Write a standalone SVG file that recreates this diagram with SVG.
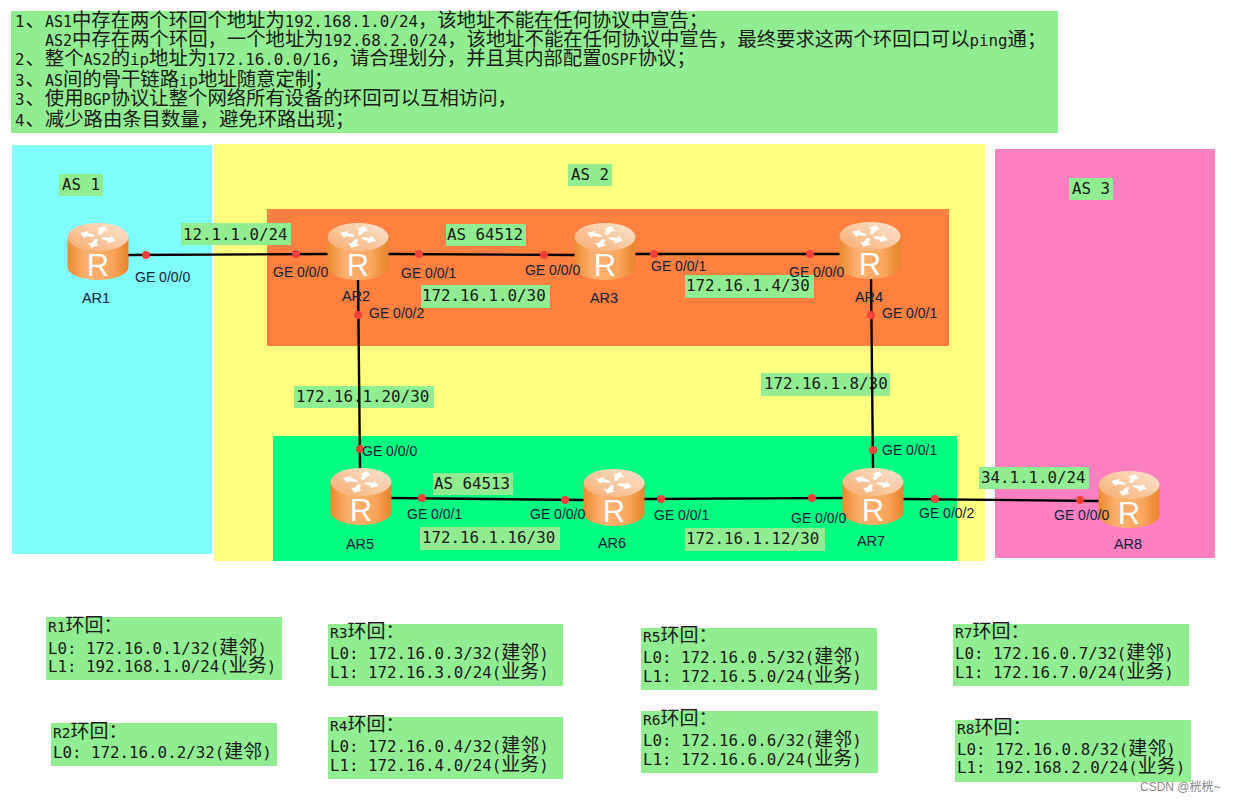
<svg xmlns="http://www.w3.org/2000/svg" width="1237" height="802" viewBox="0 0 1237 802">
<style>
text{font-family:"DejaVu Sans Mono","Liberation Mono","Noto Sans CJK SC",monospace;fill:#1a1a1a}
.m{font-size:15.8px}
.t{font-size:15px}
.r{font-size:14.5px}
.c{font-family:"Noto Sans CJK SC",sans-serif;font-size:19px}
.d{font-family:"Noto Sans CJK SC",sans-serif;font-size:19.35px}
.l{font-family:"Liberation Sans",Arial,sans-serif;font-size:14px;fill:#10203a}
.n{font-family:"Liberation Sans",Arial,sans-serif;font-size:14.5px;fill:#10203a;text-anchor:middle}
.g{fill:#90ee90}
.link{stroke:#000;stroke-width:2.4;fill:none}
.dot{fill:#f5403a}
</style>
<defs>
<linearGradient id="body" x1="0" x2="1" y1="0" y2="0"><stop offset="0" stop-color="#ea8a32"/><stop offset=".3" stop-color="#fcb272"/><stop offset=".7" stop-color="#faa860"/><stop offset="1" stop-color="#e8842c"/></linearGradient>
<linearGradient id="top" x1="1" x2="0" y1="0" y2="1"><stop offset="0" stop-color="#fde6d2"/><stop offset="1" stop-color="#f7ab6e"/></linearGradient>
<g id="arr"><path d="M0-1.600L8-3V-6.500L15 0 8 6.500V3L0 1.600Z" fill="#fff"/></g>
<g id="router">
<path d="M-30.500-14V16A30.500 13 0 0 0 30.500 16V-14Z" fill="url(#body)"/>
<ellipse cx="0" cy="-14" rx="30.500" ry="14" fill="url(#top)"/>
<g transform="translate(0 -14) scale(1 .6)"><use href="#arr" transform="rotate(20) translate(4 0)"/><use href="#arr" transform="rotate(110) translate(4 0)"/><use href="#arr" transform="rotate(200) translate(4 0)"/><use href="#arr" transform="rotate(290) translate(4 0)"/></g>
<text x="0" y="25" text-anchor="middle" style="font-family:'Liberation Sans',Arial,sans-serif;font-size:31px;fill:#fff">R</text>
</g>
</defs>
<rect width="1237" height="802" fill="#fff"/>
<g id="regions">
<rect x="12" y="145" width="200" height="409" fill="#80ffff"/>
<rect x="214" y="144" width="771" height="417" fill="#ffff80"/>
<rect x="995" y="149" width="220" height="409" fill="#ff80c0"/>
<rect x="267" y="209" width="682" height="137" fill="#ff8040"/>
<rect x="273" y="436" width="684" height="125" fill="#00ff80"/>
</g>
<g id="task">
<rect class="g" x="11" y="11" width="1047" height="122"/>
<text class="m" x="15" y="27">1<tspan class="d" dx="1">、</tspan><tspan class="t">AS1</tspan><tspan class="d">中存在两个环回个地址为</tspan>192.168.1.0/24<tspan class="d">，该地址不能在任何协议中宣告；</tspan></text>
<text class="m" x="45" y="46"><tspan class="t">AS2</tspan><tspan class="d">中存在两个环回，一个地址为</tspan>192.68.2.0/24<tspan class="d">，该地址不能在任何协议中宣告，最终要求这两个环回口可以</tspan>ping<tspan class="d">通；</tspan></text>
<text class="m" x="15" y="65">2<tspan class="d" dx="1">、整个</tspan><tspan class="t">AS2</tspan><tspan class="d">的</tspan>ip<tspan class="d">地址为</tspan>172.16.0.0/16<tspan class="d">，请合理划分，并且其内部配置</tspan><tspan class="t">OSPF</tspan><tspan class="d">协议；</tspan></text>
<text class="m" x="15" y="86">3<tspan class="d" dx="1">、</tspan><tspan class="t">AS</tspan><tspan class="d">间的骨干链路</tspan>ip<tspan class="d">地址随意定制；</tspan></text>
<text class="m" x="15" y="105">3<tspan class="d" dx="1">、使用</tspan><tspan class="t">BGP</tspan><tspan class="d">协议让整个网络所有设备的环回可以互相访问，</tspan></text>
<text class="m" x="15" y="126">4<tspan class="d" dx="1">、减少路由条目数量，避免环路出现；</tspan></text>
</g>
<g id="as-labels">
<rect x="59" y="174" width="44" height="22" class="g"/><text class="m" x="62" y="190">AS 1</text>
<rect x="568" y="164" width="44" height="22" class="g"/><text class="m" x="571" y="180">AS 2</text>
<rect x="1069" y="178" width="44" height="22" class="g"/><text class="m" x="1072" y="194">AS 3</text>
<rect x="446" y="224" width="80" height="22" class="g"/><text class="m" x="447" y="240">AS 64512</text>
<rect x="433" y="473" width="80" height="22" class="g"/><text class="m" x="434" y="489">AS 64513</text>
</g>
<g id="net-labels">
<rect x="181" y="223" width="110" height="22" class="g"/><text class="m" x="183" y="240">12.1.1.0/24</text>
<rect x="421" y="285" width="129" height="23" class="g"/><text class="m" x="422" y="301">172.16.1.0/30</text>
<rect x="685" y="275" width="129" height="23" class="g"/><text class="m" x="686" y="291">172.16.1.4/30</text>
<rect x="294" y="386" width="140" height="22" class="g"/><text class="m" x="296" y="402">172.16.1.20/30</text>
<rect x="761" y="373" width="129" height="23" class="g"/><text class="m" x="764" y="389">172.16.1.8/30</text>
<rect x="420" y="527" width="140" height="23" class="g"/><text class="m" x="422" y="543">172.16.1.16/30</text>
<rect x="685" y="528" width="140" height="23" class="g"/><text class="m" x="686" y="544">172.16.1.12/30</text>
<rect x="979" y="467" width="110" height="22" class="g"/><text class="m" x="981" y="483">34.1.1.0/24</text>
</g>
<g id="connectors">
<path class="link" d="M128 255L328 254M388 254L575 255M635 254L840 254M358 278L360 468M871 278L873 468M391 498L585 500M643 499L843 498M903 499L1099 501"/>
</g>
<g id="ar1"><use href="#router" x="98" y="251"/><text class="n" x="96" y="303">AR1</text><circle class="dot" cx="146" cy="255" r="4"/><text class="l" x="135" y="282">GE 0/0/0</text></g>
<g id="ar2"><use href="#router" x="358" y="251"/><text class="n" x="356" y="301">AR2</text><circle class="dot" cx="296" cy="254" r="4"/><circle class="dot" cx="419" cy="254" r="4"/><circle class="dot" cx="358" cy="315" r="4"/><text class="l" x="273" y="277">GE 0/0/0</text><text class="l" x="401" y="278">GE 0/0/1</text><text class="l" x="369" y="318">GE 0/0/2</text></g>
<g id="ar3"><use href="#router" x="605" y="251"/><text class="n" x="604" y="303">AR3</text><circle class="dot" cx="544" cy="255" r="4"/><circle class="dot" cx="654" cy="254" r="4"/><text class="l" x="525" y="275">GE 0/0/0</text><text class="l" x="651" y="271">GE 0/0/1</text></g>
<g id="ar4"><use href="#router" x="870" y="250"/><text class="n" x="869" y="302">AR4</text><circle class="dot" cx="810" cy="254" r="4"/><circle class="dot" cx="871" cy="315" r="4"/><text class="l" x="789" y="277">GE 0/0/0</text><text class="l" x="882" y="318">GE 0/0/1</text></g>
<g id="ar5"><use href="#router" x="361" y="496"/><text class="n" x="360" y="549">AR5</text><circle class="dot" cx="360" cy="449" r="4"/><circle class="dot" cx="422" cy="498" r="4"/><text class="l" x="362" y="456">GE 0/0/0</text><text class="l" x="407" y="519">GE 0/0/1</text></g>
<g id="ar6"><use href="#router" x="614" y="497"/><text class="n" x="612" y="548">AR6</text><circle class="dot" cx="565" cy="500" r="4"/><circle class="dot" cx="661" cy="499" r="4"/><text class="l" x="530" y="519">GE 0/0/0</text><text class="l" x="654" y="520">GE 0/0/1</text></g>
<g id="ar7"><use href="#router" x="873" y="496"/><text class="n" x="871" y="546">AR7</text><circle class="dot" cx="873" cy="450" r="4"/><circle class="dot" cx="812" cy="498" r="4"/><circle class="dot" cx="935" cy="499" r="4"/><text class="l" x="882" y="455">GE 0/0/1</text><text class="l" x="791" y="523">GE 0/0/0</text><text class="l" x="919" y="518">GE 0/0/2</text></g>
<g id="ar8"><use href="#router" x="1129" y="499"/><text class="n" x="1128" y="549">AR8</text><circle class="dot" cx="1080" cy="500" r="4"/><text class="l" x="1054" y="520">GE 0/0/0</text></g>
<g id="r1"><rect class="g" x="46" y="617" width="236" height="63"/><text class="r" x="48" y="632">R1<tspan class="c">环回：</tspan></text><text class="m" x="48" y="654">L0: 172.16.0.1/32(<tspan class="c">建邻</tspan>)</text><text class="m" x="48" y="672">L1: 192.168.1.0/24(<tspan class="c">业务</tspan>)</text></g>
<g id="r2"><rect class="g" x="51" y="723" width="226" height="43"/><text class="r" x="53" y="738">R2<tspan class="c">环回：</tspan></text><text class="m" x="53" y="758">L0: 172.16.0.2/32(<tspan class="c">建邻</tspan>)</text></g>
<g id="r3"><rect class="g" x="328" y="624" width="235" height="62"/><text class="r" x="330" y="638">R3<tspan class="c">环回：</tspan></text><text class="m" x="330" y="659">L0: 172.16.0.3/32(<tspan class="c">建邻</tspan>)</text><text class="m" x="330" y="678">L1: 172.16.3.0/24(<tspan class="c">业务</tspan>)</text></g>
<g id="r4"><rect class="g" x="328" y="717" width="235" height="62"/><text class="r" x="330" y="731">R4<tspan class="c">环回：</tspan></text><text class="m" x="330" y="752">L0: 172.16.0.4/32(<tspan class="c">建邻</tspan>)</text><text class="m" x="330" y="771">L1: 172.16.4.0/24(<tspan class="c">业务</tspan>)</text></g>
<g id="r5"><rect class="g" x="641" y="628" width="236" height="62"/><text class="r" x="643" y="642">R5<tspan class="c">环回：</tspan></text><text class="m" x="643" y="663">L0: 172.16.0.5/32(<tspan class="c">建邻</tspan>)</text><text class="m" x="643" y="682">L1: 172.16.5.0/24(<tspan class="c">业务</tspan>)</text></g>
<g id="r6"><rect class="g" x="641" y="711" width="237" height="62"/><text class="r" x="643" y="725">R6<tspan class="c">环回：</tspan></text><text class="m" x="643" y="746">L0: 172.16.0.6/32(<tspan class="c">建邻</tspan>)</text><text class="m" x="643" y="765">L1: 172.16.6.0/24(<tspan class="c">业务</tspan>)</text></g>
<g id="r7"><rect class="g" x="953" y="624" width="236" height="62"/><text class="r" x="955" y="638">R7<tspan class="c">环回：</tspan></text><text class="m" x="955" y="659">L0: 172.16.0.7/32(<tspan class="c">建邻</tspan>)</text><text class="m" x="955" y="678">L1: 172.16.7.0/24(<tspan class="c">业务</tspan>)</text></g>
<g id="r8"><rect class="g" x="955" y="720" width="236" height="62"/><text class="r" x="957" y="734">R8<tspan class="c">环回：</tspan></text><text class="m" x="957" y="755">L0: 172.16.0.8/32(<tspan class="c">建邻</tspan>)</text><text class="m" x="957" y="773">L1: 192.168.2.0/24(<tspan class="c">业务</tspan>)</text></g>
<text x="1140" y="791" style="font-family:'Liberation Sans','Noto Sans CJK SC',sans-serif;font-size:12px;fill:#888">CSDN @桄桄~</text>
</svg>
